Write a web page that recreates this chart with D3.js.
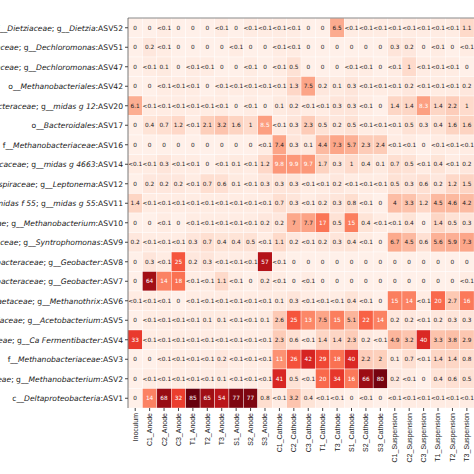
<!DOCTYPE html>
<html><head><meta charset="utf-8">
<script src="https://cdn.jsdelivr.net/npm/d3@7.9.0/dist/d3.min.js"></script>
<style>body{margin:0;background:#fff}svg{font-family:"DejaVu Sans",sans-serif}</style>
</head><body><svg id="chart" width="474" height="474"></svg>
<script>
const samples = ['Inoculum','C1_Anode','C2_Anode','C3_Anode','T1_Anode','T2_Anode','T3_Anode','S1_Anode','S2_Anode','S3_Anode',
  'C1_Cathode','C2_Cathode','C3_Cathode','T1_Cathode','T3_Cathode','S1_Cathode','S2_Cathode','S3_Cathode',
  'C1_Suspension','C2_Suspension','C3_Suspension','T1_Suspension','T2_Suspension','T3_Suspension'];

// [prefix1, name1, prefix2, name2, asv]
const taxa = [
  ['f__','Dietziaceae','g__','Dietzia','ASV52'],
  ['f__','Rhodocyclaceae','g__','Dechloromonas','ASV51'],
  ['f__','Rhodocyclaceae','g__','Dechloromonas','ASV47'],
  ['o__','Methanobacteriales',null,null,'ASV42'],
  ['f__','Syntrophobacteraceae','g__','midas g 12','ASV20'],
  ['o__','Bacteroidales',null,null,'ASV17'],
  ['f__','Methanobacteriaceae',null,null,'ASV16'],
  ['f__','Peptococcaceae','g__','midas g 4663','ASV14'],
  ['f__','Leptospiraceae','g__','Leptonema','ASV12'],
  ['f__','midas f 55','g__','midas g 55','ASV11'],
  ['f__','Methanobacteriaceae','g__','Methanobacterium','ASV10'],
  ['f__','Syntrophomonadaceae','g__','Syntrophomonas','ASV9'],
  ['f__','Geobacteraceae','g__','Geobacter','ASV8'],
  ['f__','Geobacteraceae','g__','Geobacter','ASV7'],
  ['f__','Methanosaetaceae','g__','Methanothrix','ASV6'],
  ['f__','Eubacteriaceae','g__','Acetobacterium','ASV5'],
  ['f__','Fermentibacteraceae','g__','Ca Fermentibacter','ASV4'],
  ['f__','Methanobacteriaceae',null,null,'ASV3'],
  ['f__','Methanobacteriaceae','g__','Methanobacterium','ASV2'],
  ['c__','Deltaproteobacteria',null,null,'ASV1']
];

const L = '<0.1';
const abundance = [
  [0, 0,L,0,0,0,L,0,L,L, L,L,0, 0,6.5,L,L,L, L,L,L,L,L,1.1],
  [0, 0.2,L,0,0,0,0,L,0,0, L,L,0, 0,0,0,0,0, 0.3,0.2,0,L,0,L],
  [0, L,0.1,0,L,L,0,0,L,0, L,0.5,0, 0,0,L,L,0, L,1.0,L,L,L,0],
  [0, 0,L,L,L,0,L,L,L,L, L,1.3,7.5, 0.2,0.1,0.3,L,L, L,0.2,L,L,L,0.2],
  [6.1, L,L,L,L,L,L,0,L,0, 0.1,0.2,L, L,0.3,0.3,L,0, 1.4,1.4,8.3,1.4,2.2,1.0],
  [0, 0.4,0.7,1.2,L,2.1,3.2,1.6,1.0,8.5, L,0.3,2.3, 0.5,0.2,0.5,L,L, L,0.5,0.3,0.4,1.6,1.6],
  [0, 0,0,0,0,0,0,0,0,L, 7.4,0.3,0.1, 4.4,7.3,5.7,2.3,2.4, L,L,0,L,L,L],
  [L, L,0.3,L,L,0,L,0.1,L,1.2, 9.8,9.9,9.7, 1.7,0.3,1.0,0.4,0.1, 0.7,0.5,L,0.4,L,0.2],
  [0, 0.2,0.2,0.2,L,0.7,0.6,0.1,L,0.3, 0.3,0.3,L, L,0.2,L,L,L, 0.5,0.3,0.6,0.2,1.2,1.5],
  [1.4, L,L,L,L,L,L,L,L,L, 0.7,0.3,L, 0.2,0.3,0.8,L,0, 4.0,3.3,1.2,4.5,4.6,4.2],
  [0, 0,L,0,L,L,L,L,L,0.2, 0.2,7.0,7.7, 17,0.5,15,0.4,L, L,0.4,0,1.4,0.5,0.3],
  [0.2, L,L,L,0.3,0.7,0.4,0.4,0.5,L, 1.1,0.2,L, 0.2,0.3,0.4,L,0, 6.7,4.5,0.6,5.6,5.9,7.3],
  [0, 0.3,L,25,0.2,0.3,L,L,L,57, L,0,0, 0,0,0,0,0, 0,0,0,0,0,0],
  [0, 64,14,18,L,L,1.1,L,0,0.2, L,0,L, 0,0,0,0,0, 0,0,0,0,0,L],
  [L, L,L,0,L,L,L,L,L,L, 0.1,0.3,L, L,L,0.4,L,0, 15,14,L,20,2.7,16],
  [0, L,L,L,L,0.1,0.1,L,L,0.1, 2.6,25,13, 7.5,15,5.1,22,14, 0.2,0.2,L,0.2,0.3,0.3],
  [33, L,L,L,L,L,L,L,L,L, 2.3,0.6,L, 1.4,1.4,2.3,0.2,L, 4.9,3.2,40,3.3,3.8,2.9],
  [0, 0,L,L,L,L,0.2,L,L,L, 11,26,42, 29,18,40,2.2,2.0, 0.1,0.7,L,1.4,1.4,0.8],
  [0, L,L,L,L,L,0.1,L,L,L, 41,0.5,L, 20,34,16,66,80, 0.2,L,0,0.4,0.6,0.5],
  [0, 14,68,32,85,65,54,77,77,0.8, L,3.2,0.4, L,L,0,L,0, L,L,L,L,L,L]
];

const svg = d3.select('#chart');
const plotLeft = 128, plotTop = 18, cellW = 14.42, cellH = 19.5;
const x = d3.scaleBand().domain(samples).range([plotLeft, plotLeft + cellW * samples.length]);
const y = d3.scaleBand().domain(taxa.map(t => t[4])).range([plotTop, plotTop + cellH * taxa.length]);
const num = v => v === L ? 0.05 : v;
const color = d3.scaleSqrt().domain([0, 85]).range([0, 1]);

const cells = [];
abundance.forEach((row, i) => row.forEach((v, j) => cells.push({ r: taxa[i][4], c: samples[j], v })));

svg.selectAll('rect.cell').data(cells).join('rect')
  .attr('x', d => x(d.c)).attr('y', d => y(d.r))
  .attr('width', x.bandwidth()).attr('height', y.bandwidth())
  .attr('fill', d => d3.interpolateReds(0.03 + color(num(d.v)) * 0.97))
  .attr('stroke', '#fff').attr('stroke-width', 0.4);

svg.selectAll('text.val').data(cells).join('text')
  .attr('x', d => x(d.c) + x.bandwidth() / 2).attr('y', d => y(d.r) + y.bandwidth() / 2 + 2)
  .attr('text-anchor', 'middle').attr('font-size', 5.8)
  .attr('fill', d => num(d.v) > 8 ? '#fff' : '#222')
  .text(d => d.v);

// frame
svg.append('line').attr('x1', plotLeft).attr('x2', 474).attr('y1', plotTop).attr('y2', plotTop).attr('stroke', '#888').attr('stroke-width', 1);
svg.append('line').attr('x1', plotLeft).attr('x2', plotLeft).attr('y1', plotTop).attr('y2', y.range()[1]).attr('stroke', '#555').attr('stroke-width', 0.8);

// y axis
const ya = svg.append('g').attr('transform', `translate(${plotLeft},0)`)
  .call(d3.axisLeft(y).tickSize(3).tickFormat(''));
ya.select('.domain').remove();
ya.selectAll('line').attr('stroke', '#444');
svg.selectAll('text.rowlab').data(taxa).join('text')
  .attr('x', plotLeft - 5).attr('y', d => y(d[4]) + y.bandwidth() / 2 + 2.8)
  .attr('text-anchor', 'end').attr('font-size', 7.6).attr('fill', '#222')
  .each(function (d) {
    const t = d3.select(this);
    t.append('tspan').text(d[0]);
    t.append('tspan').attr('font-style', 'italic').text(d[1]);
    if (d[2]) {
      t.append('tspan').text('; ' + d[2]);
      t.append('tspan').attr('font-style', 'italic').text(d[3]);
    }
    t.append('tspan').text(':' + d[4]);
  });

// x axis
const xa = svg.append('g').attr('transform', `translate(0,${y.range()[1]})`)
  .call(d3.axisBottom(x).tickSize(3));
xa.select('.domain').remove();
xa.selectAll('line').attr('stroke', '#444');
xa.selectAll('text').attr('font-size', 7).attr('fill', '#222')
  .attr('transform', 'rotate(-90)').attr('text-anchor', 'end')
  .attr('x', -5).attr('y', 0).attr('dy', '0.35em');
</script></body></html>
